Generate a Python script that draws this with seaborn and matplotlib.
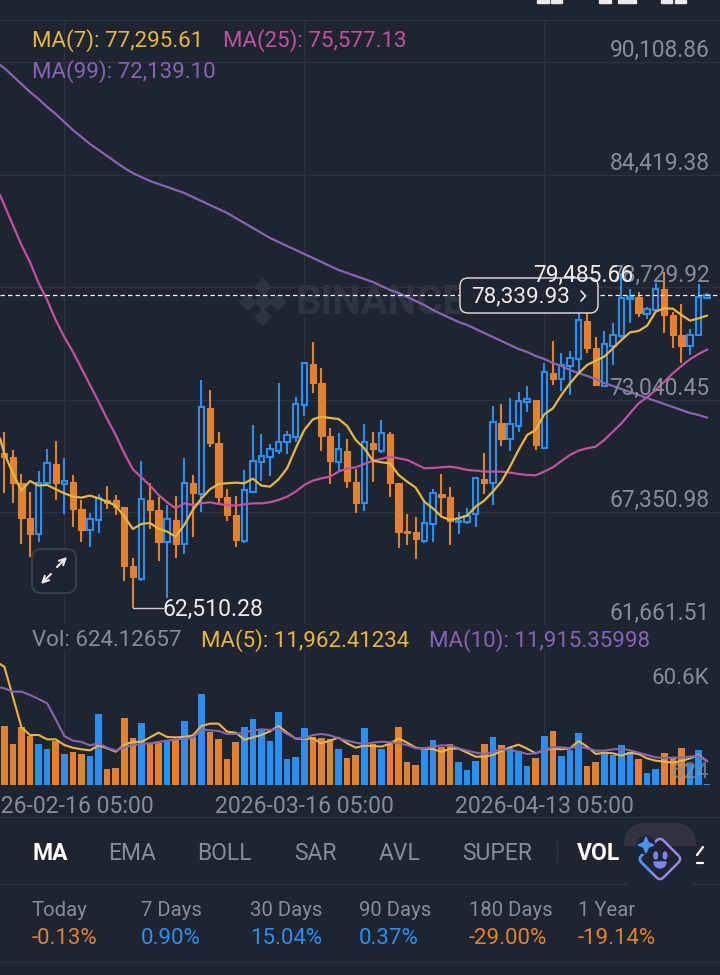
import matplotlib
matplotlib.use('Agg')
import matplotlib.pyplot as plt
import matplotlib.patches as mpatches
from matplotlib.transforms import Affine2D
import pandas as pd
import seaborn as sns

# daily candles
open_ = [70337, 70135, 68822, 67087, 66262, 68822, 69799, 68788, 68872, 67508, 66464, 66969, 67980, 67963, 67643, 64645,
         64006, 67980, 67475, 65875, 66969, 65757, 68822, 68283, 72644, 70876, 68115, 67239, 65892, 68401, 69916, 70169,
         70472, 70927, 71179, 72779, 74851, 73907, 71230, 69916, 70472, 68906, 67812, 70877, 70473, 71315, 68822, 66414,
         66380, 65909, 66751, 68266, 68115, 66852, 66886, 67273, 69024, 68856, 71887, 71045, 71736, 72914, 73032, 70624,
         74379, 74076, 74750, 75104, 77023, 75642, 73739, 75777, 76265, 78118, 78219, 77377, 77579, 78640, 77326, 76299,
         75760, 76316, 78202]
high = [71432, 70506, 69276, 68401, 69462, 70539, 70960, 70118, 69243, 67980, 67306, 68283, 68687, 68232, 67643, 65033,
        69967, 68822, 68148, 67727, 68182, 70085, 69243, 74042, 73537, 71398, 68536, 68199, 69495, 71769, 71314, 70792,
        73874, 71483, 73167, 74884, 75979, 74632, 71600, 71348, 71062, 69529, 71820, 71399, 72022, 71399, 68822, 67273,
        67138, 67980, 68519, 69277, 68654, 67391, 67559, 69159, 70338, 72746, 72830, 73116, 73420, 73756, 73032, 74885,
        76013, 75390, 75508, 78337, 77411, 76198, 76518, 76905, 79431, 78623, 78505, 77747, 78926, 79485.66, 77495, 77882,
        76619, 78893, 78421]
low = [68317, 67811, 65757, 65117, 65875, 68788, 67980, 67273, 66633, 65875, 65622, 66296, 67525, 67222, 63905, 62510.28,
       63905, 66498, 64915, 63012, 65066, 65252, 66127, 67390, 70641, 67811, 66919, 65622, 65824, 68367, 68957, 69192,
       70304, 70304, 70893, 72240, 73369, 70472, 68788, 69411, 68569, 67340, 67441, 68906, 70371, 68149, 65538, 65707,
       64983, 65791, 65875, 67138, 65707, 66263, 66768, 66599, 68283, 67728, 70708, 70473, 71432, 72443, 70506, 70540,
       73790, 73487, 73285, 74379, 75423, 73739, 73706, 74800, 76148, 76939, 77242, 77107, 77495, 76434, 75642, 74885,
       75306, 76265, 78118]
close = [70135, 68822, 67087, 66262, 68822, 69832, 68822, 68957, 67525, 66464, 67020, 68064, 67811, 67643, 64645, 64073,
         68013, 67475, 65875, 67003, 65757, 68855, 68350, 72695, 70876, 68115, 67239, 65959, 68485, 69967, 70203, 70573,
         70927, 71247, 72830, 74884, 73907, 71230, 69950, 70539, 68940, 67845, 70927, 70540, 71348, 68822, 66380, 66296,
         66010, 66835, 68317, 68115, 66936, 66919, 67172, 69075, 68856, 71938, 71045, 71820, 72999, 73066, 70742, 74430,
         74110, 74800, 75137, 77074, 75642, 73790, 75844, 76316, 78168, 78253, 77411, 77613, 78640, 77326, 76316, 75760,
         76316, 78219, 78339.93]
# the averages come in from just off the left edge, hence one extra leading value
ma7 = [71095, 70337, 69327, 68451, 68940, 68704, 68738, 68519, 68317, 68148, 68098, 68199, 68064, 67895, 67693, 67138, 66515,
       66767, 66818, 66532, 66380, 66127, 66717, 67475, 68064, 68519, 68788, 68822, 68855, 68822, 69057, 68704, 68653,
       69024, 69580, 70590, 71516, 72055, 72190, 72122, 72072, 71718, 71011, 70590, 69967, 69883, 69833, 69243, 68906,
       68603, 67896, 67559, 67138, 66970, 67054, 67189, 67643, 67947, 68401, 68906, 69664, 70506, 71264, 71517, 72308,
       72611, 73285, 73874, 74379, 74800, 75019, 75221, 75642, 76063, 76451, 76518, 76788, 77495, 77663, 77646, 77326,
       77040, 77158, 77295.61]
ma25 = [83390, 82885, 81874, 80863, 80004, 78943, 78084, 77073, 76214, 75474, 74632, 73790, 72948, 72072, 71264, 70337, 69529,
        69125, 68704, 68232, 67862, 67559, 67811, 67727, 67811, 67862, 67778, 67727, 67694, 67761, 67811, 67811, 67862,
        67980, 68148, 68401, 68738, 68957, 69074, 69159, 69411, 69580, 69630, 69799, 69967, 70052, 70169, 70085, 70001,
        69799, 69580, 69597, 69631, 69664, 69597, 69496, 69462, 69412, 69412, 69412, 69361, 69294, 69243, 69226, 69412,
        69631, 69950, 70254, 70473, 70590, 70675, 71011, 71432, 71853, 72359, 72864, 73167, 73537, 73958, 74379, 74750,
        75087, 75356, 75577.13]
ma99 = [89958, 89807, 89403, 88998, 88594, 88241, 87836, 87483, 87078, 86674, 86320, 85967, 85663, 85360, 85057, 84754, 84501,
        84299, 84097, 83945, 83794, 83642, 83491, 83289, 83086, 82884, 82682, 82480, 82227, 81975, 81722, 81470, 81217,
        81015, 80813, 80610, 80408, 80206, 80004, 79802, 79600, 79448, 79297, 79145, 78994, 78791, 78589, 78438, 78236,
        78033, 77831, 77579, 77377, 77174, 76972, 76821, 76619, 76417, 76214, 76012, 75810, 75608, 75456, 75254, 75103,
        74901, 74749, 74547, 74395, 74244, 74092, 73890, 73738, 73587, 73435, 73284, 73132, 72980, 72829, 72677, 72526,
        72374, 72273, 72139.10]
volume = [29560, 20540, 28890, 24720, 20370, 18200, 22210, 15700, 16700, 15530, 14700, 35570, 8020, 8350, 33400, 23380,
          31060, 20880, 21210, 22550, 22880, 32230, 23880, 45420, 26720, 22880, 12860, 21710, 28890, 32900, 27560, 22210,
          36410, 13030, 14200, 28720, 23880, 23380, 22880, 18200, 13530, 15030, 28560, 20370, 18040, 20540, 28890, 11690,
          10190, 17870, 22380, 18870, 20540, 11690, 7520, 12020, 20540, 24050, 20040, 18370, 17200, 9350, 13690, 24550,
          26890, 14530, 17370, 26220, 9350, 11520, 15870, 15030, 20040, 16700, 12860, 5850, 8020, 16200, 13860, 18540,
          10520, 17540, 624.13]
vol_ma5 = [60620, 59285, 44255, 28890, 25050, 25050, 22880, 22880, 20040, 18700, 17870, 17370, 19870, 18370, 16700, 20040, 21710,
           21540, 23880, 26220, 24050, 23880, 24050, 24880, 29560, 30730, 30730, 26720, 26220, 22710, 23880, 25050, 26890,
           29560, 26220, 23210, 23050, 23380, 20880, 22210, 23710, 20880, 18700, 19710, 19540, 19210, 20710, 23380, 21210,
           18700, 18200, 18040, 16530, 18200, 18200, 16200, 14200, 14200, 15030, 17030, 18870, 20210, 18200, 15870, 17540,
           18200, 17870, 18370, 22040, 19210, 15530, 16200, 15870, 14700, 16200, 15530, 13360, 12190, 11690, 11190, 12020,
           13360, 15030, 11962.41]
vol_ma10 = [48930, 48430, 46760, 46760, 45090, 43090, 40920, 32900, 24550, 22210, 21540, 19870, 20880, 18700, 17200, 18870, 20040,
            20540, 20880, 21540, 22210, 22880, 23210, 23710, 27890, 27390, 27050, 25550, 25550, 26220, 27390, 27890, 27560,
            28220, 25550, 23380, 23380, 25050, 25550, 24880, 23380, 22210, 21210, 20540, 21210, 21710, 21380, 20880, 20040,
            18370, 18370, 19210, 19870, 19870, 18370, 17200, 16200, 15530, 16700, 17870, 17540, 16700, 15530, 15870, 17540,
            18870, 18870, 18370, 19540, 18370, 17200, 17200, 17870, 18200, 17370, 16200, 15030, 13860, 13530, 13690, 13860,
            14200, 14530, 11915.36]

price_ticks = [61661.51, 67350.98, 73040.45, 78729.92, 84419.38, 90108.86]
date_idx = [7, 35, 63]
date_labels = ['2026-02-16 05:00', '2026-03-16 05:00', '2026-04-13 05:00']
tabs = ['MA', 'EMA', 'BOLL', 'SAR', 'AVL', 'SUPER', 'VOL']
period_names = ['Today', '7 Days', '30 Days', '90 Days', '180 Days', '1 Year']
period_values = [-0.13, 0.90, 15.04, 0.37, -29.00, -19.14]

BG = '#1e2430'
GRID = '#2c3340'
ORANGE = '#e0822f'
BLUE = '#2a8ff0'
YELLOW = '#e8b83c'
PINK = '#c4509f'
PURPLE = '#8765b5'
GREY = '#848e9c'
WHITE = '#eaecef'

sns.set_theme(style='dark', rc={'figure.facecolor': BG, 'axes.facecolor': 'none'})
plt.rcParams['font.family'] = ['Roboto', 'DejaVu Sans']

df = pd.DataFrame({'i': range(len(close)), 'open': open_, 'high': high, 'low': low, 'close': close,
                   'volume': volume})
df['side'] = ['up' if c >= o else 'down' for o, c in zip(df['open'], df['close'])]
up = df[df['side'] == 'up']
down = df[df['side'] == 'down']
line_x = [-0.5] + df['i'].tolist()

W, H = 720, 975
fig = plt.figure(figsize=(W / 100, H / 100), dpi=100)


def px_axes(top, bottom):
    return fig.add_axes([0, 1 - bottom / H, 1, (bottom - top) / H])


under = fig.add_axes([0, 0, 1, 1], zorder=0)
ax = px_axes(20, 625)
ax.set_zorder(1)
vol = px_axes(650, 785)
vol.set_zorder(1)
over = fig.add_axes([0, 0, 1, 1], zorder=3)
for a in (under, over):
    a.set_xlim(0, W)
    a.set_ylim(H, 0)
    a.axis('off')
over.patch.set_alpha(0)

# watermark
for cx, cy, r in [(263, 287, 8), (263, 317, 8), (248, 302, 8), (278, 302, 8), (263, 302, 8)]:
    under.add_patch(mpatches.Polygon([(cx - r, cy), (cx, cy - r), (cx + r, cy), (cx, cy + r)], color='#2f3540'))
under.text(296, 303, 'BINANCE', color='#2f3540', fontsize=29, fontweight='bold', va='center')

# candles
ax.vlines(df['i'], df['low'], df['high'], color=[BLUE if s == 'up' else ORANGE for s in df['side']], lw=1.5, zorder=2)
ax.bar(down['i'], down['close'] - down['open'], bottom=down['open'], width=0.72, color=ORANGE,
       edgecolor=ORANGE, lw=0.8, zorder=3)
ax.bar(up['i'], up['close'] - up['open'], bottom=up['open'], width=0.62, facecolor=BG,
       edgecolor=BLUE, lw=1.5, zorder=3)

sns.lineplot(x=line_x, y=ma99, ax=ax, color=PURPLE, lw=1.6, zorder=4)
sns.lineplot(x=line_x, y=ma25, ax=ax, color=PINK, lw=1.6, zorder=5)
sns.lineplot(x=line_x, y=ma7, ax=ax, color=YELLOW, lw=1.6, zorder=6)
ax.axhline(close[-1], color='white', lw=0.9, ls=(0, (3.5, 2.5)), zorder=7)

ax.set_xlim(-0.5, 83.5)
ax.set_ylim(price_ticks[0], price_ticks[0] + 605 * 50.53)
ax.set_xticks(date_idx)
ax.set_yticks(price_ticks)
ax.set_xticklabels([])
ax.set_yticklabels([])
ax.grid(True, color=GRID, lw=1)
ax.set_axisbelow(True)
ax.tick_params(length=0)
sns.despine(ax=ax, left=True, bottom=True)

for tick in price_ticks:
    label = f'{tick:,.2f}'
    ax.annotate(label, xy=(1, tick), xycoords=('axes fraction', 'data'), xytext=(-7.5, 3.6),
                textcoords='offset points', ha='right', va='baseline', color=GREY, fontsize=16.4, zorder=8)

# volume panel
sns.barplot(data=df, x='i', y='volume', hue='side', palette={'up': BLUE, 'down': ORANGE}, dodge=False,
            native_scale=True, width=0.78, saturation=1, linewidth=0, legend=False, ax=vol, zorder=2)
sns.lineplot(x=line_x, y=vol_ma10, ax=vol, color=PURPLE, lw=1.5, zorder=4)
sns.lineplot(x=line_x, y=vol_ma5, ax=vol, color=YELLOW, lw=1.5, zorder=3)
vol.set_xlim(-0.5, 83.5)
vol.set_ylim(0, 135 * 501)
vol.set_xticks(date_idx)
vol.set_yticks([])
vol.set_xticklabels(date_labels, color=GREY, fontsize=16.6)
vol.tick_params(axis='x', length=0, pad=7)
vol.set_xlabel('')
vol.set_ylabel('')
vol.grid(True, axis='x', color=GRID, lw=1)
vol.set_axisbelow(True)
sns.despine(ax=vol, left=True, bottom=True)

# header values
over.text(32, 41, f'MA(7): {ma7[-1]:,.2f}', color=YELLOW, fontsize=16, va='center')
over.text(223, 41, f'MA(25): {ma25[-1]:,.2f}', color=PINK, fontsize=16, va='center')
over.text(32, 72, f'MA(99): {ma99[-1]:,.2f}', color=PURPLE, fontsize=16, va='center')
over.text(32, 641, 'Vol: 624.12657', color=GREY, fontsize=16, va='center')
over.text(201, 641, 'MA(5): 11,962.41234', color=YELLOW, fontsize=16, va='center')
over.text(429, 641, 'MA(10): 11,915.35998', color=PURPLE, fontsize=16, va='center')
over.text(709, 679, '60.6K', color=GREY, fontsize=16, va='center', ha='right')
over.text(709, 773, '624', color=GREY, fontsize=16, va='center', ha='right', alpha=0.8)

# rules across the frame
over.plot([0, W], [20, 20], color=GRID, lw=1)
over.plot([0, W], [817, 817], color=GRID, lw=1)
over.plot([0, 627], [884, 884], color=GRID, lw=1)
over.plot([693, W], [884, 884], color=GRID, lw=1)
over.plot([0, W], [962, 962], color=GRID, lw=1)
over.plot([557, 557], [840, 862], color=GRID, lw=1)

# last price pill and extremes
over.add_patch(mpatches.FancyBboxPatch((460, 278), 138, 35, boxstyle='round,pad=0,rounding_size=8',
                                       fc=BG, ec=WHITE, lw=1, alpha=0.96, zorder=5))
over.text(471, 297, f'{close[-1]:,.2f}', color=WHITE, fontsize=16.2, va='center', zorder=6)
over.plot([581, 585.5, 581], [291, 296, 301], color=WHITE, lw=1.2, zorder=6)
over.text(533, 275, f'{max(high):,.2f}', color=WHITE, fontsize=16.4, va='center', zorder=6)
over.text(163, 609, f'{min(low):,.2f}', color=WHITE, fontsize=16.6, va='center', zorder=6)
over.plot([133, 163], [608, 608], color='#c8ccd2', lw=1, zorder=6)

# expand button
over.add_patch(mpatches.FancyBboxPatch((32, 549), 44, 44, boxstyle='round,pad=0,rounding_size=9',
                                       fc=BG, ec='#3b424e', lw=1.3, zorder=6))
for tail, head in [((51, 574), (41, 584)), ((57, 567), (67, 557))]:
    over.annotate('', xy=head, xytext=tail, zorder=7,
                  arrowprops=dict(arrowstyle='->', color=WHITE, lw=1.5, mutation_scale=11, shrinkA=0, shrinkB=0))

# tabs
tab_x = [32, 108, 197, 294, 379, 462, 577]
for name, x in zip(tabs, tab_x):
    active = name in ('MA', 'VOL')
    over.text(x, 853, name, color='white' if active else GREY, fontsize=16.5, va='center',
              fontweight='bold' if active else 'normal')

# assistant button
clip = mpatches.Rectangle((620, 815), 80, 31, transform=over.transData)
hump = mpatches.FancyBboxPatch((624, 823), 72, 50, boxstyle='round,pad=0,rounding_size=22', fc='#2f3342', ec='none', zorder=6)
over.add_patch(hump)
hump.set_clip_path(clip)
rot = Affine2D().rotate_deg_around(660, 859, 45) + over.transData
over.add_patch(mpatches.FancyBboxPatch((644.5, 843.5), 31, 31, boxstyle='round,pad=0,rounding_size=5', fc=BG,
                                       ec='#9a86ee', lw=1.8, transform=rot, zorder=7))
blue_side = mpatches.FancyBboxPatch((644.5, 843.5), 31, 31, boxstyle='round,pad=0,rounding_size=5', fc='none',
                                    ec='#4a92f2', lw=1.8, transform=rot, zorder=8)
over.add_patch(blue_side)
blue_side.set_clip_path(mpatches.Rectangle((630, 840), 22, 40, transform=over.transData))
over.add_patch(mpatches.Circle((646, 845), 9.5, fc=BG, ec='none', zorder=9))
over.add_patch(mpatches.Polygon([(646, 837), (648.3, 842.7), (654, 845), (648.3, 847.3), (646, 853), (643.7, 847.3),
                                 (638, 845), (643.7, 842.7)], color='#4a92f2', zorder=10))
for ex in (655.7, 665):
    over.add_patch(mpatches.Ellipse((ex, 855.5), 3.6, 7, color='#7d83ea', zorder=10))
over.add_patch(mpatches.Wedge((660, 862), 6, 0, 180, color='#7d83ea', zorder=10))
over.plot([697, 703], [855, 847], color='white', lw=1.6, zorder=10)
over.plot([697, 703], [863, 863], color='white', lw=1.6, zorder=10)

# clipped toolbar icons at the top edge
for x0, x1 in [(537, 549), (551, 562), (599, 611), (618, 636), (661, 672), (675, 686)]:
    over.add_patch(mpatches.Rectangle((x0, 0), x1 - x0, 2.5, color=WHITE))

# period change row
period_x = [32, 141, 250, 359, 469, 578]
for name, value, x in zip(period_names, period_values, period_x):
    over.text(x, 911, name, color=GREY, fontsize=14.6, va='center')
    over.text(x, 939, f'{value:.2f}%', color=ORANGE if value < 0 else BLUE, fontsize=16, va='center')

fig.savefig('out.png', dpi=100, facecolor=BG)
